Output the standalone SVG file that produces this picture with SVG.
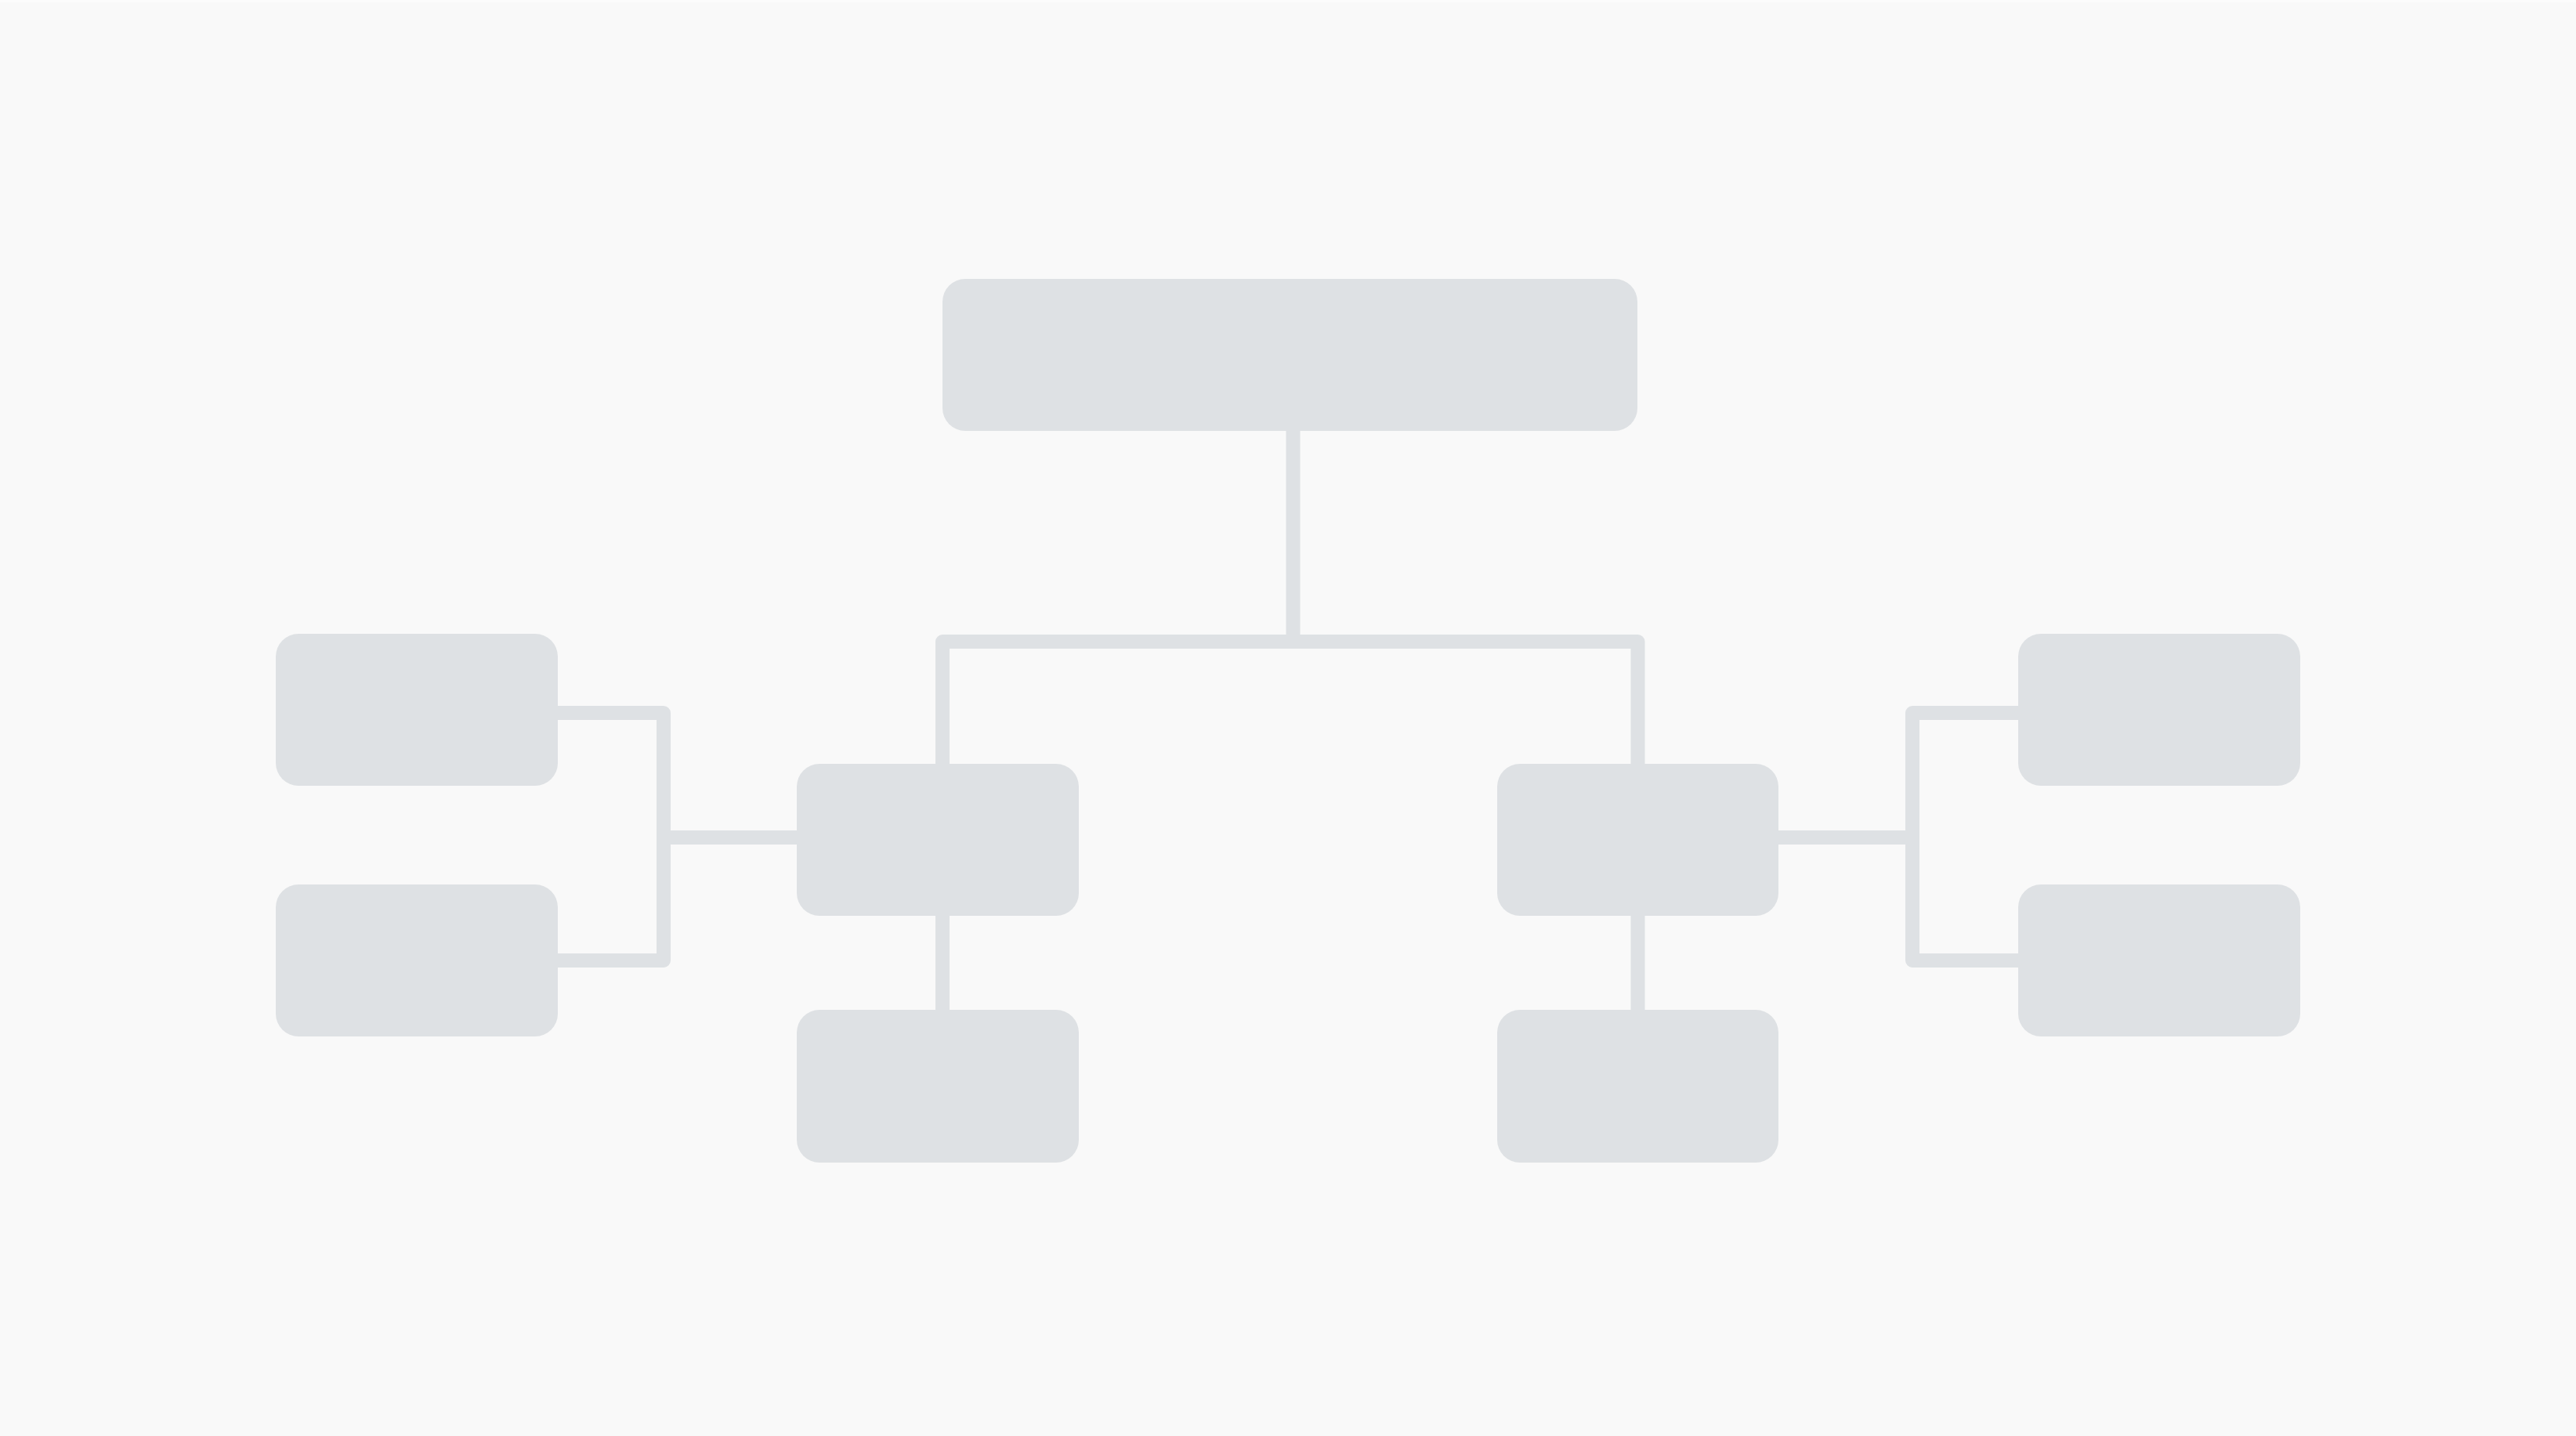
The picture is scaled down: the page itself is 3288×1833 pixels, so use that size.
<svg xmlns="http://www.w3.org/2000/svg" width="3288" height="1833" viewBox="0 0 3288 1833">
  <style>
    .node { fill: #DEE1E4; }
    .conn { fill: none; stroke: #DEE1E4; stroke-width: 18; stroke-linejoin: round; stroke-linecap: butt; }
  </style>
  <rect x="0" y="0" width="3288" height="1833" fill="#F9F9F9"/>
  <rect x="0" y="0" width="3288" height="3" fill="#FCFCFC"/>
  <g id="connectors">
    <path class="conn" d="M1650.5 550 V819"/>
    <path class="conn" d="M1203 975 V819 H2090.5 V975"/>
    <path class="conn" d="M1203 1169 V1289"/>
    <path class="conn" d="M2090.5 1169 V1289"/>
    <path class="conn" d="M711 910 H847 V1226 H711"/>
    <path class="conn" d="M847 1069 H1017"/>
    <path class="conn" d="M2576 910 H2441 V1226 H2576"/>
    <path class="conn" d="M2441 1069 H2270"/>
  </g>
  <g id="node-root"><rect class="node" x="1203" y="356" width="887" height="194" rx="29" ry="29"/></g>
  <g id="node-left-mid"><rect class="node" x="1017" y="975" width="360" height="194" rx="29" ry="29"/></g>
  <g id="node-left-bottom"><rect class="node" x="1017" y="1289" width="360" height="195" rx="29" ry="29"/></g>
  <g id="node-right-mid"><rect class="node" x="1911" y="975" width="359" height="194" rx="29" ry="29"/></g>
  <g id="node-right-bottom"><rect class="node" x="1911" y="1289" width="359" height="195" rx="29" ry="29"/></g>
  <g id="node-left-1"><rect class="node" x="352" y="809" width="360" height="194" rx="29" ry="29"/></g>
  <g id="node-left-2"><rect class="node" x="352" y="1129" width="360" height="194" rx="29" ry="29"/></g>
  <g id="node-right-1"><rect class="node" x="2576" y="809" width="360" height="194" rx="29" ry="29"/></g>
  <g id="node-right-2"><rect class="node" x="2576" y="1129" width="360" height="194" rx="29" ry="29"/></g>
</svg>
